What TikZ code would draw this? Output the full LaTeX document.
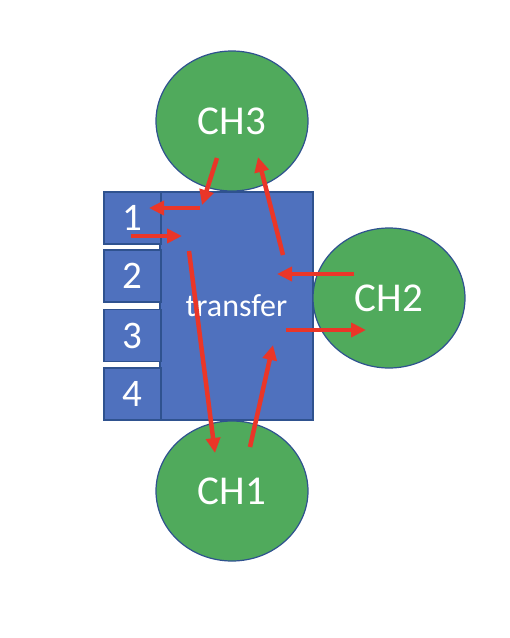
\documentclass[tikz,border=0pt]{standalone}
\usepackage{fontspec}
\setmainfont{Carlito}
\usetikzlibrary{arrows.meta,shapes.geometric}

\definecolor{boxblue}{RGB}{79,113,190}
\definecolor{edgeblue}{RGB}{47,82,143}
\definecolor{chgreen}{RGB}{80,170,92}
\definecolor{arrowred}{RGB}{234,54,40}

\begin{document}
\begin{tikzpicture}[x=1pt,y=-1pt,
    chan/.style={ellipse, draw=edgeblue, fill=chgreen, line width=1.2pt,
        minimum width=152pt, minimum height=140pt, inner sep=0pt,
        text=white, font=\fontsize{41}{44}\selectfont},
    slot/.style={rectangle, draw=edgeblue, fill=boxblue, line width=1.2pt,
        minimum width=57pt, minimum height=52pt, inner sep=0pt,
        text=white, font=\fontsize{39}{42}\selectfont},
    move/.style={draw=arrowred, line width=4.5pt, -{Triangle[length=15pt,width=14pt]}}]
            \useasboundingbox (0,0) rectangle (510,638);

            \node[chan] (CH3) at (232,121) {CH3};
            \node[rectangle, draw=edgeblue, fill=boxblue, line width=1.2pt,
                minimum width=153pt, minimum height=228pt, inner sep=0pt,
                text=white, font=\fontsize{32}{35}\selectfont] (XFER) at (236.5,306) {transfer};
            \node[slot] (S1) at (132.5,218) {1};
            \node[slot] (S2) at (132.5,276) {2};
            \node[slot] (S3) at (132.5,335.5) {3};
            \node[slot] (S4) at (132.5,394) {4};
            \node[chan] (CH2) at (389,298) {CH2};
            \node[chan] (CH1) at (232,491) {CH1};

            % arrow ends
            \coordinate (A1) at (217,158);
            \coordinate (B1) at (202,205);
            \coordinate (A2) at (200,208);
            \coordinate (B2) at (149,208);
            \coordinate (A3) at (131,236);
            \coordinate (B3) at (182,236);
            \coordinate (A4) at (189,251);
            \coordinate (B4) at (215,453);
            \coordinate (A5) at (250,447);
            \coordinate (B5) at (273,345);
            \coordinate (A6) at (286,330);
            \coordinate (B6) at (366,330);
            \coordinate (A7) at (354,274);
            \coordinate (B7) at (277,274);
            \coordinate (A8) at (283,255);
            \coordinate (B8) at (258,157);

            \foreach \i in {1,...,8}
                \draw[move] (A\i) -- (B\i);
        \end{tikzpicture}
\end{document}
